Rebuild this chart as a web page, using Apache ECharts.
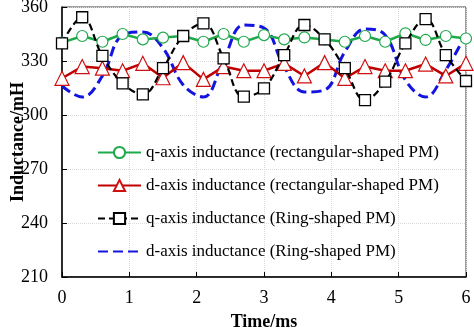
<!DOCTYPE html>
<html>
<head>
<meta charset="utf-8">
<script src="https://cdn.jsdelivr.net/npm/echarts@6/dist/echarts.min.js"></script>
<style>html,body{margin:0;padding:0;background:#fff}#c{width:474px;height:328px}</style>
</head>
<body>
<div id="c"></div>
<script>
var times = [0, 0.3, 0.6, 0.9, 1.2, 1.5, 1.8, 2.1, 2.4, 2.7, 3.0, 3.3, 3.6, 3.9, 4.2, 4.5, 4.8, 5.1, 5.4, 5.7, 6.0];
var qRect = [340.2, 343.9, 340.7, 345, 342, 343, 343.9, 340.7, 345, 340.7, 344.4, 342, 343.1, 342, 340.7, 343.9, 340.7, 345.4, 341.7, 343.9, 342.5];
var dRect = [320.4, 326.9, 326, 324.6, 328.7, 320.7, 329.1, 319.8, 326.9, 324.6, 324.6, 328.7, 321.7, 329.1, 320.4, 326.9, 324.6, 324.6, 328.3, 321.7, 328.7];
var qRing = [339.8, 354.3, 332.8, 317.6, 311.5, 326, 343.9, 350.9, 331.5, 310.2, 314.8, 333.3, 350, 342, 326, 308.3, 318.5, 339.8, 353.3, 333.3, 318.9];
var dRing = [316.1, 310, 321.7, 344.4, 346.1, 337.2, 316.7, 310, 330.6, 350, 348.3, 326.7, 312.8, 313.9, 335, 347.8, 344.4, 319.4, 310, 325, 345];
var seriesNames = [
  'q-axis inductance (rectangular-shaped PM)',
  'd-axis inductance (rectangular-shaped PM)',
  'q-axis inductance (Ring-shaped PM)',
  'd-axis inductance (Ring-shaped PM)'
];
var xTicks = [0, 1, 2, 3, 4, 5, 6];
var yTicks = [210, 240, 270, 300, 330, 360];

function pairs(v){ return times.map(function(t,i){ return [t, v[i]]; }); }
var FONT = "'Times New Roman', 'Liberation Serif', serif";
var chart = echarts.init(document.getElementById('c'));
chart.setOption({
  animation: false,
  backgroundColor: '#fff',
  grid: { left: 62, right: 8, top: 7, bottom: 51, containLabel: false, outerBoundsMode: 'none',
          show: true, borderColor: '#404040', borderWidth: 1 },
  legend: {
    orient: 'vertical', left: 97, top: 144, padding: 0,
    itemWidth: 43, itemHeight: 14, itemGap: 16,
    textStyle: { fontFamily: FONT, fontSize: 17, color: '#000', padding: [0,0,0,0] },
    data: [
      seriesNames[0], seriesNames[1], seriesNames[2],
      { name: seriesNames[3], itemStyle: { opacity: 0 } }
    ]
  },
  xAxis: {
    type: 'value', min: xTicks[0], max: xTicks[xTicks.length-1], interval: 1,
    name: 'Time/ms', nameLocation: 'middle', nameGap: 36, nameMoveOverlap: false,
    nameTextStyle: { fontFamily: FONT, fontSize: 18, fontWeight: 'bold', color: '#000' },
    axisLine: { lineStyle: { color: '#000', width: 1.5 } },
    axisTick: { inside: true, length: 5, lineStyle: { color: '#000' } },
    axisLabel: { fontFamily: FONT, fontSize: 18, color: '#000', margin: 12 },
    splitLine: { show: true, lineStyle: { color: '#d9d9d9', type: 'dotted' } }
  },
  yAxis: {
    type: 'value', min: yTicks[0], max: yTicks[yTicks.length-1], interval: 30,
    name: 'Inductance/mH', nameLocation: 'middle', nameGap: 35, nameMoveOverlap: false,
    nameTextStyle: { fontFamily: FONT, fontSize: 18, fontWeight: 'bold', color: '#000' },
    axisLine: { show: true, lineStyle: { color: '#000', width: 1.5 } },
    axisTick: { show: true, inside: true, length: 5, lineStyle: { color: '#000' } },
    axisLabel: { fontFamily: FONT, fontSize: 18, color: '#000', margin: 14 },
    splitLine: { show: true, lineStyle: { color: '#d9d9d9', type: 'dotted' } }
  },
  series: [
    { name: seriesNames[0], type: 'line', data: pairs(qRect), symbol: 'circle', symbolSize: 11,
      lineStyle: { color: '#1fa94b', width: 2.5 }, itemStyle: { color: '#fff', borderColor: '#1fa94b', borderWidth: 1.2 }, color: '#1fa94b', z: 3 },
    { name: seriesNames[1], type: 'line', data: pairs(dRect), symbol: 'triangle', symbolSize: 14,
      lineStyle: { color: '#c00000', width: 2.5 }, itemStyle: { color: '#fff', borderColor: '#d01010', borderWidth: 1.2 }, color: '#c00000', z: 3 },
    { name: seriesNames[2], type: 'line', data: pairs(qRing), smooth: 0.4, symbol: 'rect', symbolSize: 11,
      lineStyle: { color: '#000', width: 2.2, type: [7, 4] }, itemStyle: { color: '#fff', borderColor: '#000', borderWidth: 1.3 }, color: '#000', z: 4 },
    { name: seriesNames[3], type: 'line', data: pairs(dRing), smooth: 0.4, symbol: 'none',
      lineStyle: { color: '#1414e0', width: 3, type: [10, 5] }, itemStyle: { color: '#1414e0' }, color: '#1414e0', z: 2 }
  ]
});
</script>
</body>
</html>
